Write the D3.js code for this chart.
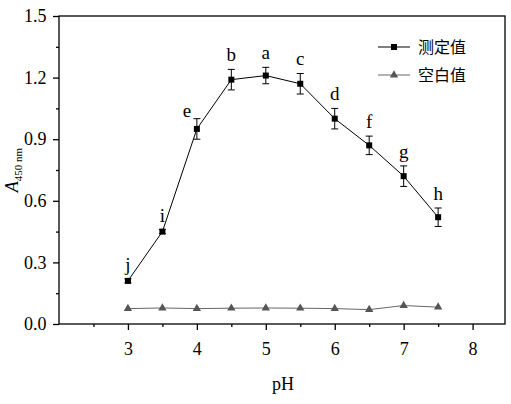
<!DOCTYPE html>
<html><head><meta charset="utf-8">
<script src="https://cdn.jsdelivr.net/npm/d3@7"></script>
<style>body{margin:0;background:#fff}text{font-family:"Times New Roman","Liberation Serif",Times,serif !important}</style>
</head><body>
<svg id="c" width="511" height="404"></svg>
<script>
const phValues = [3, 3.5, 4, 4.5, 5, 5.5, 6, 6.5, 7, 7.5];
const measured = [0.21, 0.45, 0.95, 1.19, 1.21, 1.17, 1.0, 0.87, 0.72, 0.52];
const measuredErr = [0.01, 0.01, 0.05, 0.05, 0.04, 0.05, 0.05, 0.045, 0.05, 0.045];
const blank = [0.075, 0.078, 0.075, 0.077, 0.078, 0.077, 0.075, 0.07, 0.09, 0.082];
const letters = ['j', 'i', 'e', 'b', 'a', 'c', 'd', 'f', 'g', 'h'];
const xTicks = [3, 4, 5, 6, 7, 8];
const yTicks = [0, 0.3, 0.6, 0.9, 1.2, 1.5];

const svg = d3.select('#c');
const L = 59, R = 505, T = 16, B = 324;
const x = d3.scaleLinear().domain([2, 8.47]).range([L, R]);
const y = d3.scaleLinear().domain([0, 1.5]).range([B, T]);

svg.append('rect').attr('x', L).attr('y', T).attr('width', R - L).attr('height', B - T)
  .attr('fill', 'none').attr('stroke', '#000').attr('stroke-width', 1.3);

const xa = svg.append('g').attr('transform', `translate(0,${B})`)
  .call(d3.axisBottom(x).tickValues(xTicks).tickSize(6).tickSizeOuter(0).tickFormat(d3.format('d')));
svg.append('g').attr('transform', `translate(0,${B})`)
  .call(d3.axisBottom(x).tickValues(d3.range(2.5, 8.5, 1)).tickSize(3).tickFormat(''));
const ya = svg.append('g').attr('transform', `translate(${L},0)`)
  .call(d3.axisLeft(y).tickValues(yTicks).tickSize(6).tickSizeOuter(0).tickFormat(d3.format('.1f')));
svg.append('g').attr('transform', `translate(${L},0)`)
  .call(d3.axisLeft(y).tickValues(d3.range(0.15, 1.5, 0.3)).tickSize(3).tickFormat(''));
svg.selectAll('.domain').remove();
svg.selectAll('.tick line').attr('stroke-width', 1.3);
xa.selectAll('text').attr('font-size', 18).attr('dy', '1.2em');
ya.selectAll('text').attr('font-size', 18).attr('dx', '-0.2em');

// blank series
svg.append('path').datum(phValues)
  .attr('d', d3.line().x(d => x(d)).y((d, i) => y(blank[i])))
  .attr('fill', 'none').attr('stroke', '#666').attr('stroke-width', 1);
svg.selectAll('.tri').data(phValues).join('path')
  .attr('d', d3.symbol(d3.symbolTriangle, 30))
  .attr('transform', (d, i) => `translate(${x(d)},${y(blank[i])})`).attr('fill', '#555');

// measured series
svg.append('path').datum(phValues)
  .attr('d', d3.line().x(d => x(d)).y((d, i) => y(measured[i])))
  .attr('fill', 'none').attr('stroke', '#000').attr('stroke-width', 1);
const eb = svg.selectAll('.eb').data(phValues).join('g');
eb.append('line').attr('x1', d => x(d)).attr('x2', d => x(d))
  .attr('y1', (d, i) => y(measured[i] - measuredErr[i])).attr('y2', (d, i) => y(measured[i] + measuredErr[i]))
  .attr('stroke', '#000');
[-1, 1].forEach(s => eb.append('line').attr('x1', d => x(d) - 3.5).attr('x2', d => x(d) + 3.5)
  .attr('y1', (d, i) => y(measured[i] + s * measuredErr[i])).attr('y2', (d, i) => y(measured[i] + s * measuredErr[i]))
  .attr('stroke', '#000'));
svg.selectAll('.sq').data(phValues).join('rect')
  .attr('x', d => x(d) - 3).attr('y', (d, i) => y(measured[i]) - 3)
  .attr('width', 6).attr('height', 6).attr('fill', '#000');
svg.selectAll('.lt').data(phValues).join('text')
  .attr('x', (d, i) => x(d) - (i === 2 ? 10 : 0))
  .attr('y', (d, i) => y(measured[i] + measuredErr[i]) - 8 + (i === 2 ? 6 : 0))
  .attr('text-anchor', 'middle').attr('font-size', 19).text((d, i) => letters[i]);

// legend
const lg = svg.append('g').attr('font-size', 16);
lg.append('line').attr('x1', 378).attr('x2', 410).attr('y1', 47).attr('y2', 47).attr('stroke', '#000');
lg.append('rect').attr('x', 391).attr('y', 44).attr('width', 6).attr('height', 6);
lg.append('text').attr('x', 418).attr('y', 53).attr('style', 'font-family:"Noto Sans CJK SC" !important').text('测定值');
lg.append('line').attr('x1', 378).attr('x2', 410).attr('y1', 75).attr('y2', 75).attr('stroke', '#666');
lg.append('path').attr('d', d3.symbol(d3.symbolTriangle, 30)).attr('transform', 'translate(394,75)').attr('fill', '#555');
lg.append('text').attr('x', 418).attr('y', 81).attr('style', 'font-family:"Noto Sans CJK SC" !important').text('空白值');

svg.append('text').attr('x', x(5.25)).attr('y', 390).attr('text-anchor', 'middle').attr('font-size', 18).text('pH');
const yl = svg.append('text').attr('transform', 'translate(18,170) rotate(-90)').attr('text-anchor', 'middle');
yl.append('tspan').attr('font-size', 18).attr('font-style', 'italic').text('A');
yl.append('tspan').attr('font-size', 11).attr('dy', 4).text('450 nm');
</script>
</body></html>
